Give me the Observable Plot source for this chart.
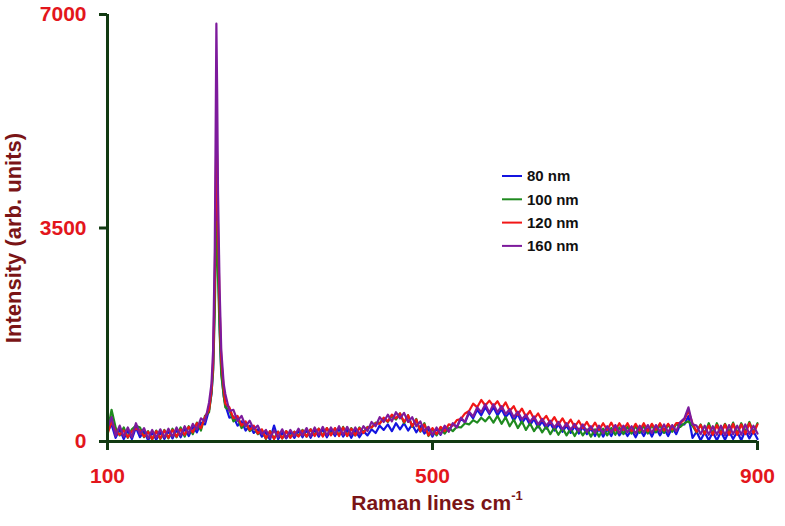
<!DOCTYPE html>
<html><head><meta charset="utf-8">
<script src="https://cdn.jsdelivr.net/npm/d3@7"></script>
<script src="https://cdn.jsdelivr.net/npm/@observablehq/plot@0.6"></script>
<style>
body{margin:0;background:#fff;}
#chart{position:relative;width:785px;height:526px;}
</style></head><body><div id="chart"></div>
<script>
// Raman shift (cm^-1) sample positions
const ramanShift = [
  100,105,110,115,120,125,130,135,140,145,
  150,155,160,165,170,175,180,185,190,195,
  200,205,210,215,220,225,
  228,230,232,233,234,235,236,238,240,243,
  245,250,255,260,265,270,275,280,285,290,
  295,300,305,310,315,320,325,330,335,340,
  345,350,355,360,365,370,375,380,385,390,
  395,400,405,410,415,420,425,430,435,440,
  445,450,455,460,465,470,475,480,485,490,
  495,500,505,510,515,520,525,530,535,540,
  545,550,555,560,565,570,575,580,585,590,
  595,600,605,610,615,620,625,630,635,640,
  645,650,655,660,665,670,675,680,685,690,
  695,700,705,710,715,720,725,730,735,740,
  745,750,755,760,765,770,775,780,785,790,
  795,800,805,810,815,820,825,830,835,840,
  845,850,855,860,865,870,875,880,885,890,
  895,900
];

const seriesNames = ["80 nm", "100 nm", "120 nm", "160 nm"];
const seriesColors = ["#1414e0", "#1f8a1f", "#f21616", "#7d1a9c"];

const int80 = [
  170,280,60,200,40,180,40,230,70,170,
  20,150,30,160,40,170,50,190,70,210,
  90,240,150,310,280,520,
  780,1200,2400,3500,4400,4000,3100,1900,1150,750,
  600,390,410,260,330,180,260,140,200,80,
  150,30,260,40,140,50,150,60,170,70,
  180,60,190,80,200,70,190,90,210,80,
  190,60,180,70,170,100,200,140,260,190,
  280,170,300,200,300,180,280,150,250,130,
  200,80,210,110,240,170,290,240,380,310,
  470,380,520,430,560,450,560,430,530,400,
  480,340,450,300,400,270,370,230,330,210,
  300,180,280,160,260,140,250,130,240,120,
  210,90,210,80,200,90,220,100,200,90,
  190,70,200,90,210,80,220,100,210,90,
  230,120,280,280,420,60,160,20,150,20,
  150,20,160,30,170,40,160,20,180,50,
  170,40
];

const int100 = [
  160,520,230,100,230,60,200,260,230,70,
  170,30,180,40,190,50,210,70,230,80,
  250,120,310,180,420,480,
  800,1150,2100,2900,3600,3300,2700,1800,1100,750,
  560,520,330,380,220,310,170,240,120,190,
  40,170,50,160,50,170,80,160,90,190,
  80,200,100,210,90,220,110,210,100,240,
  90,220,100,230,150,240,230,310,300,380,
  320,420,360,460,300,430,240,370,160,300,
  90,200,100,210,130,220,170,240,230,300,
  280,350,310,390,330,410,310,420,290,400,
  250,360,220,330,190,300,170,270,150,250,
  120,230,110,220,100,210,90,210,100,200,
  80,200,80,210,100,220,110,230,120,240,
  130,250,140,260,130,270,150,270,140,280,
  160,290,240,300,330,260,150,280,130,300,
  130,300,140,290,150,310,130,300,160,320,
  150,300
];

const int120 = [
  120,330,170,110,180,70,170,210,180,80,
  160,40,170,50,180,60,190,80,200,110,
  240,150,300,220,400,520,
  850,1300,2600,3900,5100,4600,3500,2200,1350,870,
  620,560,380,420,260,330,190,260,130,200,
  50,170,40,160,50,170,60,160,80,180,
  80,200,90,210,80,220,100,220,90,230,
  90,210,100,220,140,230,230,300,290,390,
  330,440,380,460,320,430,250,360,170,280,
  100,220,120,240,170,280,260,350,370,460,
  500,620,560,680,590,670,580,660,540,640,
  500,580,440,540,410,500,370,460,340,420,
  300,400,280,380,260,360,240,340,220,320,
  200,310,190,300,190,310,180,300,190,300,
  170,290,180,300,170,290,190,300,180,290,
  200,300,300,360,500,300,160,270,120,260,
  110,270,120,280,110,290,110,280,120,300,
  130,280
];

const int160 = [
  220,400,90,260,80,230,70,300,120,220,
  50,190,60,200,70,210,80,230,100,250,
  130,290,200,380,330,640,
  950,1500,3100,4900,6850,5700,4100,2500,1500,950,
  780,500,520,340,420,250,340,200,260,120,
  190,60,180,70,200,60,190,90,210,100,
  220,90,230,110,240,100,230,120,250,110,
  240,110,230,120,250,170,320,250,400,320,
  440,330,480,380,470,320,400,250,330,170,
  240,110,230,120,260,160,300,230,390,320,
  490,410,560,480,610,470,610,480,580,450,
  530,400,490,360,440,320,410,280,370,260,
  340,230,320,200,300,190,290,170,280,160,
  250,140,260,130,250,150,270,140,260,150,
  250,130,260,150,270,140,270,160,280,150,
  270,170,320,380,560,280,260,120,260,110,
  250,110,260,100,270,120,260,110,280,120,
  260,130
];

const xTicks = [100, 500, 900];
const yTicks = [0, 3500, 7000];
const xTitle = "Raman lines cm";
const xTitleSup = "-1";
const yTitle = "Intensity (arb. units)";

const allSeries = [int80, int100, int120, int160];
allSeries.forEach((v, i) => {
  if (v.length !== ramanShift.length) throw new Error(`series ${seriesNames[i]} has ${v.length} values, expected ${ramanShift.length}`);
});
const rows = [];
allSeries.forEach((v, i) => v.forEach((y, j) => rows.push({x: ramanShift[j], y, s: seriesNames[i]})));

const axisGreen = "#123a12", tickRed = "#e3161c", titleRed = "#7a1416";
const font = "'Liberation Sans', Arial, sans-serif";

const plot = Plot.plot({
  width: 785, height: 526,
  marginLeft: 107, marginRight: 28, marginTop: 14, marginBottom: 85,
  style: {fontFamily: font, background: "#fff", overflow: "visible"},
  x: {domain: [100, 900], axis: null},
  y: {domain: [0, 7000], axis: null},
  color: {domain: seriesNames, range: seriesColors},
  marks: [
    Plot.line(rows, {x: "x", y: "y", z: "s", stroke: "s", strokeWidth: 2.2, strokeLinejoin: "round"}),
    Plot.ruleY([0], {stroke: axisGreen, strokeWidth: 3}),
    Plot.ruleX([100], {stroke: axisGreen, strokeWidth: 3}),
    Plot.axisX(xTicks, {tickSize: 9, tickPadding: 18, stroke: axisGreen, strokeWidth: 3,
      fill: tickRed, fontSize: 21, fontWeight: "bold", label: null, tickFormat: d => String(d)}),
    Plot.axisY(yTicks, {tickSize: 8, tickPadding: 13, stroke: axisGreen, strokeWidth: 3,
      fill: tickRed, fontSize: 21, fontWeight: "bold", label: null, tickFormat: d => String(d)})
  ]
});

const svg = d3.select(plot);
// axis titles
svg.append("text")
  .attr("transform", "translate(21,238) rotate(-90)")
  .attr("text-anchor", "middle")
  .attr("font-family", font).attr("font-size", 22).attr("font-weight", "bold")
  .attr("fill", titleRed)
  .text(yTitle);
const xt = svg.append("text")
  .attr("x", 437).attr("y", 510)
  .attr("text-anchor", "middle")
  .attr("font-family", font).attr("font-size", 21).attr("font-weight", "bold")
  .attr("fill", titleRed);
xt.append("tspan").text(xTitle);
xt.append("tspan").attr("font-size", 13).attr("dy", -10).text(xTitleSup);

// legend
const lg = svg.append("g").attr("font-family", font).attr("font-size", 15).attr("font-weight", "bold")
  .attr("text-anchor", "start");
seriesNames.forEach((name, i) => {
  const cy = 176 + i * 23.3;
  lg.append("line").attr("x1", 502).attr("x2", 522).attr("y1", cy).attr("y2", cy)
    .attr("stroke", seriesColors[i]).attr("stroke-width", 2);
  lg.append("text").attr("x", 527).attr("y", cy).attr("dy", "0.35em")
    .attr("text-anchor", "start").attr("fill", "#111").text(name);
});

document.getElementById("chart").appendChild(plot);
</script>
</body></html>
